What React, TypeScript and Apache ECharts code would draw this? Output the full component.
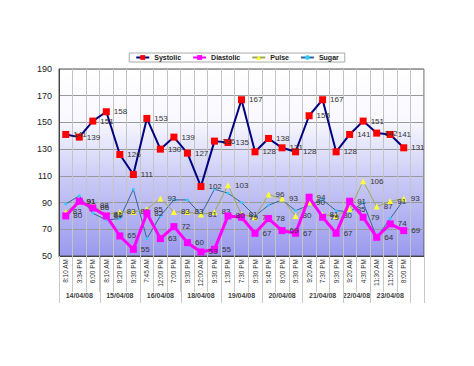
import React, { useEffect, useRef } from "react";
import * as echarts from "echarts";

const categories = [
  "8:10 AM", "3:34 PM", "6:00 PM",
  "8:10 AM", "8:20 PM", "9:30 PM",
  "7:45 AM", "12:00 PM", "7:00 PM",
  "9:30 PM", "12:00 AM", "9:30 PM",
  "1:30 PM", "7:30 PM", "9:30 PM",
  "5:45 PM", "8:00 PM", "9:30 PM",
  "9:20 AM", "7:30 PM", "9:30 PM",
  "9:20 AM", "4:30 PM",
  "11:30 AM", "11:50 AM", "8:00 PM",
  "",
];
const dates = ["14/04/08", "15/04/08", "16/04/08", "18/04/08", "19/04/08", "20/04/08", "21/04/08", "22/04/08", "23/04/08"];
const groupSizes = [3, 3, 3, 3, 3, 3, 3, 2, 3];

const systolic = [141, 139, 151, 158, 126, 111, 153, 130, 139, 127, 102, 136, 135, 167, 128, 138, 131, 128, 155, 167, 128, 141, 151, 142, 141, 131];
const diastolic = [80, 91, 86, 80, 65, 55, 82, 63, 72, 60, 53, 55, 80, 79, 67, 78, 69, 67, 94, 79, 67, 91, 79, 64, 74, 69];
const pulse = [83, 91, 88, 81, 83, 83, 85, 93, 83, 83, 81, 83, 103, 81, 79, 96, 93, 80, 90, 81, 80, 85, 106, 87, 91, 93];
const sugar = [89, 95, 82, 77, 78, 100, 63, 80, 92, 92, 81, 100, 97, 90, 80, 88, 92, 84, 88, 92, 84, 83, 90, 64, 78, 92];

const yTicks = { min: 50, max: 190, interval: 20 };

const FONT = "Liberation Sans";

export default function App() {
  const ref = useRef<HTMLDivElement>(null);
  useEffect(() => {
    const chart = echarts.init(ref.current!, null, { renderer: "svg" });
    const lbl = {
      show: true,
      position: "right" as const,
      distance: 4,
      fontSize: 8,
      fontFamily: FONT,
      color: "#333",
    };
    chart.setOption({
      animation: false,
      backgroundColor: "#ffffff",
      textStyle: { fontFamily: FONT },
      legend: {
        top: 53,
        left: "center",
        borderColor: "#aaa",
        borderWidth: 1,
        padding: [1, 6],
        itemWidth: 13,
        itemHeight: 6,
        itemGap: 11,
        textStyle: { fontSize: 7, fontWeight: "bold", color: "#222", fontFamily: FONT },
        data: ["Systolic", "Diastolic", "Pulse", "Sugar"],
      },
      grid: {
        left: 59,
        right: 50,
        top: 69,
        bottom: 110,
        show: true,
        borderColor: "#555",
        borderWidth: 1,
        backgroundColor: {
          type: "linear",
          x: 0, y: 0, x2: 0, y2: 1,
          colorStops: [
            { offset: 0, color: "#ffffff" },
            { offset: 0.28, color: "#f8f8ff" },
            { offset: 0.6, color: "#c8c8f6" },
            { offset: 1, color: "#9a9aee" },
          ],
        },
      },
      xAxis: {
        type: "category",
        data: categories,
        boundaryGap: true,
        axisLine: { lineStyle: { color: "#444" } },
        axisTick: { show: true, interval: 0, length: 36, lineStyle: { color: "#c8c8c8" } },
        axisLabel: {
          interval: 0,
          rotate: 90,
          fontSize: 6.5,
          margin: 3,
          color: "#333",
          fontFamily: FONT,
        },
        splitLine: { show: true, interval: 0, lineStyle: { color: "#c4c4c4" } },
      },
      yAxis: {
        type: "value",
        min: yTicks.min,
        max: yTicks.max,
        interval: yTicks.interval,
        axisLine: { show: true, lineStyle: { color: "#444" } },
        axisTick: { show: false },
        axisLabel: { fontSize: 9, color: "#222", margin: 7, fontFamily: FONT },
        splitLine: { lineStyle: { color: "#9a9a9a" } },
      },
      series: [
        {
          name: "Systolic",
          type: "line",
          data: systolic,
          symbol: "rect",
          symbolSize: 7,
          itemStyle: { color: "#ff0000" },
          lineStyle: { color: "#000080", width: 2 },
          label: lbl,
          z: 5,
        },
        {
          name: "Diastolic",
          type: "line",
          data: diastolic,
          symbol: "rect",
          symbolSize: 7,
          itemStyle: { color: "#ff00ff" },
          lineStyle: { color: "#ff00ff", width: 3 },
          label: lbl,
          z: 4,
        },
        {
          name: "Pulse",
          type: "line",
          data: pulse,
          symbol: "triangle",
          symbolSize: 6,
          itemStyle: { color: "#ffff33" },
          lineStyle: { color: "#9aaa5a", width: 1 },
          label: lbl,
          z: 3,
        },
        {
          name: "Sugar",
          type: "line",
          data: sugar,
          symbol: "circle",
          symbolSize: 3,
          showSymbol: true,
          itemStyle: { color: "#33ccff" },
          lineStyle: { color: "#33659a", width: 1 },
          z: 2,
        },
      ],
    });

    const px = (i: number) => chart.convertToPixel({ xAxisIndex: 0 }, i) as number;
    const band = px(1) - px(0);
    const yBottom = chart.convertToPixel({ yAxisIndex: 0 }, yTicks.min) as number;
    const elements: any[] = [];
    let start = 0;
    const boundary = (k: number) => px(0) - band / 2 + k * band;
    const bounds: number[] = [0];
    groupSizes.forEach((n, gi) => {
      const x0 = boundary(start);
      const x1 = boundary(start + n);
      elements.push({
        type: "text",
        x: (x0 + x1) / 2,
        y: yBottom + 39,
        style: {
          text: dates[gi],
          fontSize: 7,
          fontWeight: "bold",
          fontFamily: FONT,
          fill: "#444",
          align: "center",
          verticalAlign: "middle",
        },
      });
      start += n;
      bounds.push(start);
    });
    bounds.push(categories.length);
    bounds.forEach((k) => {
      const x = Math.round(boundary(k)) + 0.5;
      elements.push({
        type: "line",
        shape: { x1: x, y1: yBottom, x2: x, y2: yBottom + 47 },
        style: { stroke: "#c8c8c8", lineWidth: 1 },
      });
    });
    chart.setOption({ graphic: elements });
    return () => chart.dispose();
  }, []);
  return (
    <div
      ref={ref}
      style={{ position: "absolute", left: 0, top: 0, width: 474, height: 366 }}
    />
  );
}
